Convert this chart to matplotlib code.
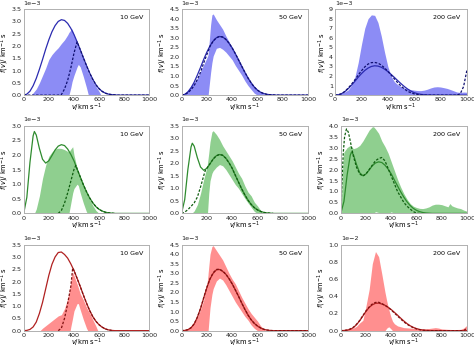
import numpy as np
import matplotlib
matplotlib.use("Agg")
import matplotlib.pyplot as plt
from matplotlib.ticker import MultipleLocator

# common velocity grid (km/s) and curves, in units of 1e-3 (km/s)^-1
v25 = np.arange(0, 1001, 25)

# row 1 (blue)
r1_solid = [0, 0.04, 0.16, 0.38, 0.68, 1.05, 1.45, 1.87, 2.25, 2.58, 2.83, 3.0, 3.07, 3.04, 2.92,
            2.72, 2.47, 2.17, 1.85, 1.52, 1.2, 0.9, 0.64, 0.42, 0.26, 0.15, 0.08, 0.04, 0.02, 0.01,
            0, 0, 0, 0, 0, 0, 0, 0, 0, 0, 0]
r1_dash10 = [0] * 12 + [0.02, 0.25, 0.6, 1.1, 1.7, 2.17,
             1.85, 1.52, 1.2, 0.9, 0.64, 0.42, 0.26, 0.15, 0.08, 0.04, 0.02, 0.01] + [0] * 11
r1_dash50 = [0, 0.03, 0.12, 0.28, 0.5, 0.82, 1.2, 1.68, 2.12, 2.55,
             2.83, 3.0, 3.07, 3.04, 2.92, 2.72, 2.47, 2.17, 1.85, 1.52, 1.2, 0.9, 0.64, 0.42, 0.26,
             0.15, 0.08, 0.04, 0.02, 0.01] + [0] * 11
r1_dash200 = [0, 0.04, 0.15, 0.4, 0.75, 1.15, 1.6, 2.1, 2.55, 2.95, 3.25, 3.4, 3.42, 3.35, 3.15,
              2.85, 2.5, 2.1, 1.7, 1.3, 0.95, 0.65, 0.4, 0.25, 0.13, 0.06, 0.02] + [0] * 11 + [0.15, 0.9, 2.6]

r1_v10 = [60, 100, 125, 150, 175, 200, 225, 250, 275, 300, 325, 350, 360, 375, 385, 400, 425, 435,
          450, 475, 500, 515, 525, 550, 575, 600, 615]
r1_hi10 = [0, 0.25, 0.5, 0.8, 1.1, 1.45, 1.65, 1.8, 1.93, 2.1, 2.25, 2.45, 2.55, 2.65, 2.7, 2.45,
           2.1, 1.95, 1.75, 1.42, 1.1, 0.9, 0.8, 0.55, 0.35, 0.15, 0]
r1_lo10 = [0] * 13 + [0.3, 0.55, 0.8, 1.15, 1.25, 1.15, 0.75, 0.3, 0] + [0] * 5

r1_v50 = [0, 25, 50, 75, 100, 125, 150, 175, 200, 209, 210, 220, 230, 240, 250, 275, 300, 325, 350,
          375, 400, 425, 450, 475, 500, 525, 550, 575, 600, 625, 650, 665]
r1_hi50 = [0, 0.1, 0.28, 0.5, 0.68, 0.88, 1.25, 1.6, 1.95, 2.1, 2.15, 2.9, 3.7, 4.2, 4.25, 3.95, 3.7,
           3.45, 3.1, 2.8, 2.45, 2.1, 1.8, 1.5, 1.15, 0.9, 0.65, 0.45, 0.28, 0.15, 0.05, 0]
r1_lo50 = [0] * 11 + [0.6, 1.2, 1.7, 2.05, 2.45, 2.5, 2.4, 2.25, 2.05, 1.85, 1.55, 1.3, 1.05, 0.75,
                      0.5, 0.3, 0.1, 0, 0, 0, 0]

r1_hi200 = [0.05, 0.1, 0.2, 0.35, 0.55, 1.05, 1.9, 3.4, 5.3, 7.0, 8.0, 8.4, 8.35, 7.6, 6.2, 4.5, 3.0,
            2.0, 1.4, 1.1, 0.9, 0.75, 0.65, 0.58, 0.52, 0.48, 0.47, 0.52, 0.62, 0.75, 0.85, 0.88,
            0.85, 0.78, 0.7, 0.58, 0.45, 0.32, 0.28, 0.32, 0.3]

# row 2 (green)
r2_v = [0, 25, 50, 75, 85, 100, 125, 150, 175, 200, 225, 250, 275, 300, 325, 350, 375, 400, 425,
        450, 475, 500, 525, 550, 575, 600, 625, 650, 675, 700, 725, 1000]
r2_solid = [0, 0.55, 1.75, 2.65, 2.8, 2.68, 2.22, 1.85, 1.72, 1.8, 1.98, 2.17, 2.3, 2.35, 2.32, 2.2,
            2.02, 1.8, 1.52, 1.25, 0.98, 0.74, 0.53, 0.36, 0.23, 0.14, 0.08, 0.04, 0.02, 0.01, 0, 0]

r2_vd10 = [275, 300, 325, 350, 375, 400, 415, 425, 450, 475, 500, 525, 550, 575, 600, 625, 650, 675,
           700, 725]
r2_dash10 = [0, 0.1, 0.35, 0.7, 1.1, 1.5, 1.64, 1.52, 1.25, 0.98, 0.74, 0.53, 0.36, 0.23, 0.14, 0.08,
             0.04, 0.02, 0.01, 0]
r2_vd50 = [0, 25, 50, 75, 100, 125, 150, 175, 190, 200, 225, 250, 275, 300, 325, 350, 375, 400, 425,
           450, 475, 500, 525, 550, 575, 600, 625, 650, 675, 700, 725]
r2_dash50 = [0, 0.05, 0.15, 0.28, 0.42, 0.65, 1.05, 1.5, 1.75, 1.8, 1.98, 2.17, 2.3, 2.35, 2.32, 2.2,
             2.02, 1.8, 1.52, 1.25, 0.98, 0.74, 0.53, 0.36, 0.23, 0.14, 0.08, 0.04, 0.02, 0.01, 0]
r2_vd200 = [0, 10, 20, 30, 45, 60, 75, 100, 125, 150, 175, 200, 225, 250, 275, 300, 325, 350, 375,
            400, 425, 450, 475, 500, 525, 550, 575, 600, 625]
r2_dash200 = [0, 1.5, 2.8, 3.5, 3.85, 3.7, 3.3, 2.6, 2.1, 1.8, 1.7, 1.8, 2.0, 2.2, 2.4, 2.5, 2.55,
              2.4, 2.05, 1.7, 1.35, 1.0, 0.75, 0.5, 0.33, 0.2, 0.08, 0.02, 0]

r2_v10 = [85, 100, 125, 150, 175, 200, 225, 250, 275, 300, 325, 350, 360, 375, 390, 400, 425, 435,
          450, 475, 500, 510, 525, 550, 575, 600]
r2_hi10 = [0, 0.15, 0.6, 1.2, 1.65, 1.95, 2.1, 2.2, 2.23, 2.22, 2.18, 2.12, 2.1, 2.2, 2.28, 2.0, 1.55,
           1.42, 1.25, 0.98, 0.74, 0.62, 0.48, 0.27, 0.1, 0]
r2_lo10 = [0] * 13 + [0.35, 0.7, 0.85, 1.0, 0.95, 0.7, 0.35, 0.05, 0] + [0] * 4

r2_v50 = [80, 100, 125, 150, 175, 200, 204, 205, 215, 225, 240, 250, 275, 300, 325, 350, 375, 400,
          425, 450, 475, 500, 525, 550, 575, 600, 625, 640]
r2_hi50 = [0, 0.1, 0.35, 0.8, 1.35, 1.85, 1.95, 2.0, 2.4, 2.85, 3.25, 3.3, 3.15, 2.95, 2.7, 2.5, 2.3,
           2.1, 1.85, 1.6, 1.4, 1.1, 0.85, 0.7, 0.45, 0.3, 0.12, 0]
r2_lo50 = [0] * 8 + [0.8, 1.3, 1.6, 1.7, 1.85, 1.95, 1.9, 1.75, 1.55, 1.35, 1.15, 1.0, 0.8, 0.6,
                     0.42, 0.25, 0.08, 0, 0, 0]

r2_v200 = [0, 5, 10, 20, 25, 50, 75, 100, 125, 150, 175, 200, 225, 250, 260, 275, 300, 325, 350, 375,
           400, 425, 450, 475, 500, 525, 550, 575, 600, 625, 650, 675, 700, 725, 750, 775, 800, 825,
           850, 865, 880, 900, 925, 950, 975, 1000]
r2_hi200 = [0, 0.5, 1.5, 2.6, 2.8, 3.0, 3.1, 2.95, 3.0, 3.1, 3.3, 3.55, 3.8, 3.95, 3.95, 3.85, 3.65,
            3.3, 3.05, 2.75, 2.35, 1.95, 1.55, 1.2, 0.9, 0.65, 0.45, 0.33, 0.27, 0.23, 0.22, 0.25,
            0.3, 0.38, 0.42, 0.42, 0.4, 0.35, 0.3, 0.45, 0.35, 0.3, 0.25, 0.22, 0.15, 0.1]
r2_lo200 = [0] * 15 + [0.08, 0.04, 0, 0, 0, 0.07] + [0] * 25

# row 3 (red)
r3_solid = [0, 0.01, 0.05, 0.15, 0.35, 0.7, 1.15, 1.7, 2.25, 2.7, 3.0, 3.18, 3.2, 3.1, 2.95, 2.72,
            2.45, 2.13, 1.8, 1.45, 1.12, 0.82, 0.57, 0.38, 0.24, 0.14, 0.07, 0.03, 0.01] + [0] * 12
r3_vd10 = [275, 300, 325, 350, 375, 390, 400, 425, 450, 475, 500, 525, 550, 575, 600, 625, 650, 675, 700]
r3_dash10 = [0, 0.1, 0.5, 1.1, 1.8, 2.55, 2.45, 2.13, 1.8, 1.45, 1.12, 0.82, 0.57, 0.38, 0.24, 0.14,
             0.07, 0.03, 0.01]
r3_dash50 = [0, 0.01, 0.05, 0.15, 0.36, 0.7, 1.16, 1.72, 2.27, 2.72, 3.03, 3.2, 3.22, 3.12, 2.96,
             2.72, 2.45, 2.13, 1.8, 1.45, 1.12, 0.82, 0.57, 0.38, 0.24, 0.14, 0.07, 0.03, 0.01] + [0] * 12
r3_dash200 = [0, 0.02, 0.07, 0.2, 0.4, 0.75, 1.2, 1.75, 2.3, 2.75, 3.1, 3.28, 3.3, 3.15, 2.95, 2.7,
              2.4, 2.05, 1.7, 1.35, 1.02, 0.75, 0.52, 0.34, 0.2, 0.11, 0.05, 0.02] + [0] * 12 + [0.3]

r3_v10 = [130, 150, 175, 200, 225, 250, 275, 300, 325, 350, 370, 375, 387, 400, 425, 435, 450, 475,
          500, 510, 525, 550, 575, 590]
r3_hi10 = [0, 0.1, 0.2, 0.3, 0.4, 0.5, 0.6, 0.65, 0.9, 1.3, 1.8, 2.0, 2.4, 2.25, 1.9, 1.75, 1.5, 1.25,
           0.95, 0.85, 0.72, 0.45, 0.18, 0]
r3_lo10 = [0] * 11 + [0.15, 0.45, 0.8, 1.1, 1.1, 0.85, 0.45, 0.1, 0] + [0] * 4

r3_v50 = [0, 25, 50, 75, 100, 125, 150, 175, 200, 209, 210, 225, 240, 250, 275, 300, 325, 350, 375,
          400, 425, 450, 475, 500, 525, 550, 575, 600, 625, 650, 665]
r3_hi50 = [0, 0.05, 0.12, 0.25, 0.45, 0.7, 1.1, 1.6, 2.4, 2.9, 3.0, 4.0, 4.4, 4.45, 4.2, 3.95, 3.7,
           3.35, 3.0, 2.7, 2.45, 2.1, 1.75, 1.45, 1.15, 0.9, 0.7, 0.5, 0.25, 0.08, 0]
r3_lo50 = [0] * 11 + [1.2, 1.9, 2.2, 2.6, 2.75, 2.65, 2.4, 2.1, 1.8, 1.5, 1.25, 1.0, 0.75, 0.55,
                      0.3, 0.12, 0, 0, 0, 0]

r3_v200 = [0, 25, 50, 75, 100, 125, 150, 175, 200, 225, 250, 275, 300, 325, 350, 365, 380, 395, 410,
           425, 450, 475, 500, 550, 600, 650, 700, 725, 750, 775, 800, 850, 900, 950, 975, 990, 1000]
r3_hi200 = [0.1, 0.15, 0.2, 0.25, 0.3, 0.5, 0.9, 1.2, 2.9, 4.8, 7.8, 9.2, 8.6, 6.6, 4.5, 3.4, 2.5,
            1.7, 1.1, 0.8, 0.55, 0.45, 0.35, 0.3, 0.25, 0.2, 0.25, 0.3, 0.35, 0.3, 0.2, 0.15, 0.12,
            0.15, 0.3, 0.5, 0.6]
r3_lo200 = [0] * 15 + [0.3, 0.45, 0.25] + [0] * 19

masses = ["10 GeV", "50 GeV", "200 GeV"]
ytops = [[3.5, 4.5, 9], [3.0, 3.5, 4.0], [3.5, 4.5, 10]]
ysteps = [[0.5, 0.5, 1], [0.5, 0.5, 0.5], [0.5, 0.5, 2]]

band_cols = ["#8c8cf5", "#8fcf8f", "#ff8f8f"]
line_cols = ["#2a2ab0", "#2e8b2e", "#b02020"]
dash_cols = ["#101070", "#105e10", "#801010"]

# (solid v, solid f, dash v, dash f, band v, band lo, band hi)
panels = [
    [(v25, r1_solid, v25, r1_dash10, r1_v10, r1_lo10, r1_hi10),
     (v25, r1_solid, v25, r1_dash50, r1_v50, r1_lo50, r1_hi50),
     (v25, r1_solid, v25, r1_dash200, v25, [0] * 41, r1_hi200)],
    [(r2_v, r2_solid, r2_vd10, r2_dash10, r2_v10, r2_lo10, r2_hi10),
     (r2_v, r2_solid, r2_vd50, r2_dash50, r2_v50, r2_lo50, r2_hi50),
     (r2_v, r2_solid, r2_vd200, r2_dash200, r2_v200, r2_lo200, r2_hi200)],
    [(v25, r3_solid, r3_vd10, r3_dash10, r3_v10, r3_lo10, r3_hi10),
     (v25, r3_solid, v25, r3_dash50, r3_v50, r3_lo50, r3_hi50),
     (v25, r3_solid, v25, r3_dash200, r3_v200, r3_lo200, r3_hi200)],
]

# axes boxes in figure fractions
lefts = [[0.050, 0.383, 0.707], [0.050, 0.383, 0.719], [0.050, 0.383, 0.719]]
widths = [[0.265, 0.267, 0.278], [0.265, 0.267, 0.266], [0.265, 0.267, 0.266]]
bottoms = [0.729, 0.392, 0.058]
heights = [0.245, 0.250, 0.245]

fs_small = 4.6
plt.rcParams["font.size"] = fs_small
plt.rcParams["font.family"] = "DejaVu Sans"
plt.rcParams["mathtext.fontset"] = "dejavusans"

fig = plt.figure(figsize=(4.74, 3.51), dpi=100)

for i in range(3):
    for j in range(3):
        ax = fig.add_axes([lefts[i][j], bottoms[i], widths[i][j], heights[i]])
        vs, fs, vd, fd, vb, lo, hi = panels[i][j]
        sc = 1e-3
        ax.fill_between(vb, np.array(lo) * sc, np.array(hi) * sc, color=band_cols[i], lw=0)
        ax.plot(vs, np.array(fs) * sc, color=line_cols[i], lw=0.9)
        ax.plot(vd, np.array(fd) * sc, color=dash_cols[i], lw=0.9, ls=(0, (2, 1.3)))
        ax.set_xlim(0, 1000)
        ax.set_ylim(0, ytops[i][j] * sc)
        ax.yaxis.set_major_locator(MultipleLocator(ysteps[i][j] * sc))
        ax.xaxis.set_major_locator(MultipleLocator(200))
        ax.ticklabel_format(axis="y", style="sci", scilimits=(0, 0))
        ax.text(0.95, 0.93, masses[j], transform=ax.transAxes, ha="right", va="top", fontsize=fs_small)
        ax.set_xlabel(r"$v$/km s$^{-1}$", labelpad=-0.5, fontsize=fs_small + 0.3)
        ax.set_ylabel(r"$f(v)/$ km$^{-1}$ s", labelpad=0, fontsize=fs_small + 0.3)
        ax.tick_params(length=0, pad=1.6, labelsize=fs_small, colors="#222222")
        for s in ax.spines.values():
            s.set_color("#b0b0b0")
            s.set_linewidth(0.7)
        ax.yaxis.get_offset_text().set_fontsize(fs_small)

fig.savefig("out.png", dpi=100)
